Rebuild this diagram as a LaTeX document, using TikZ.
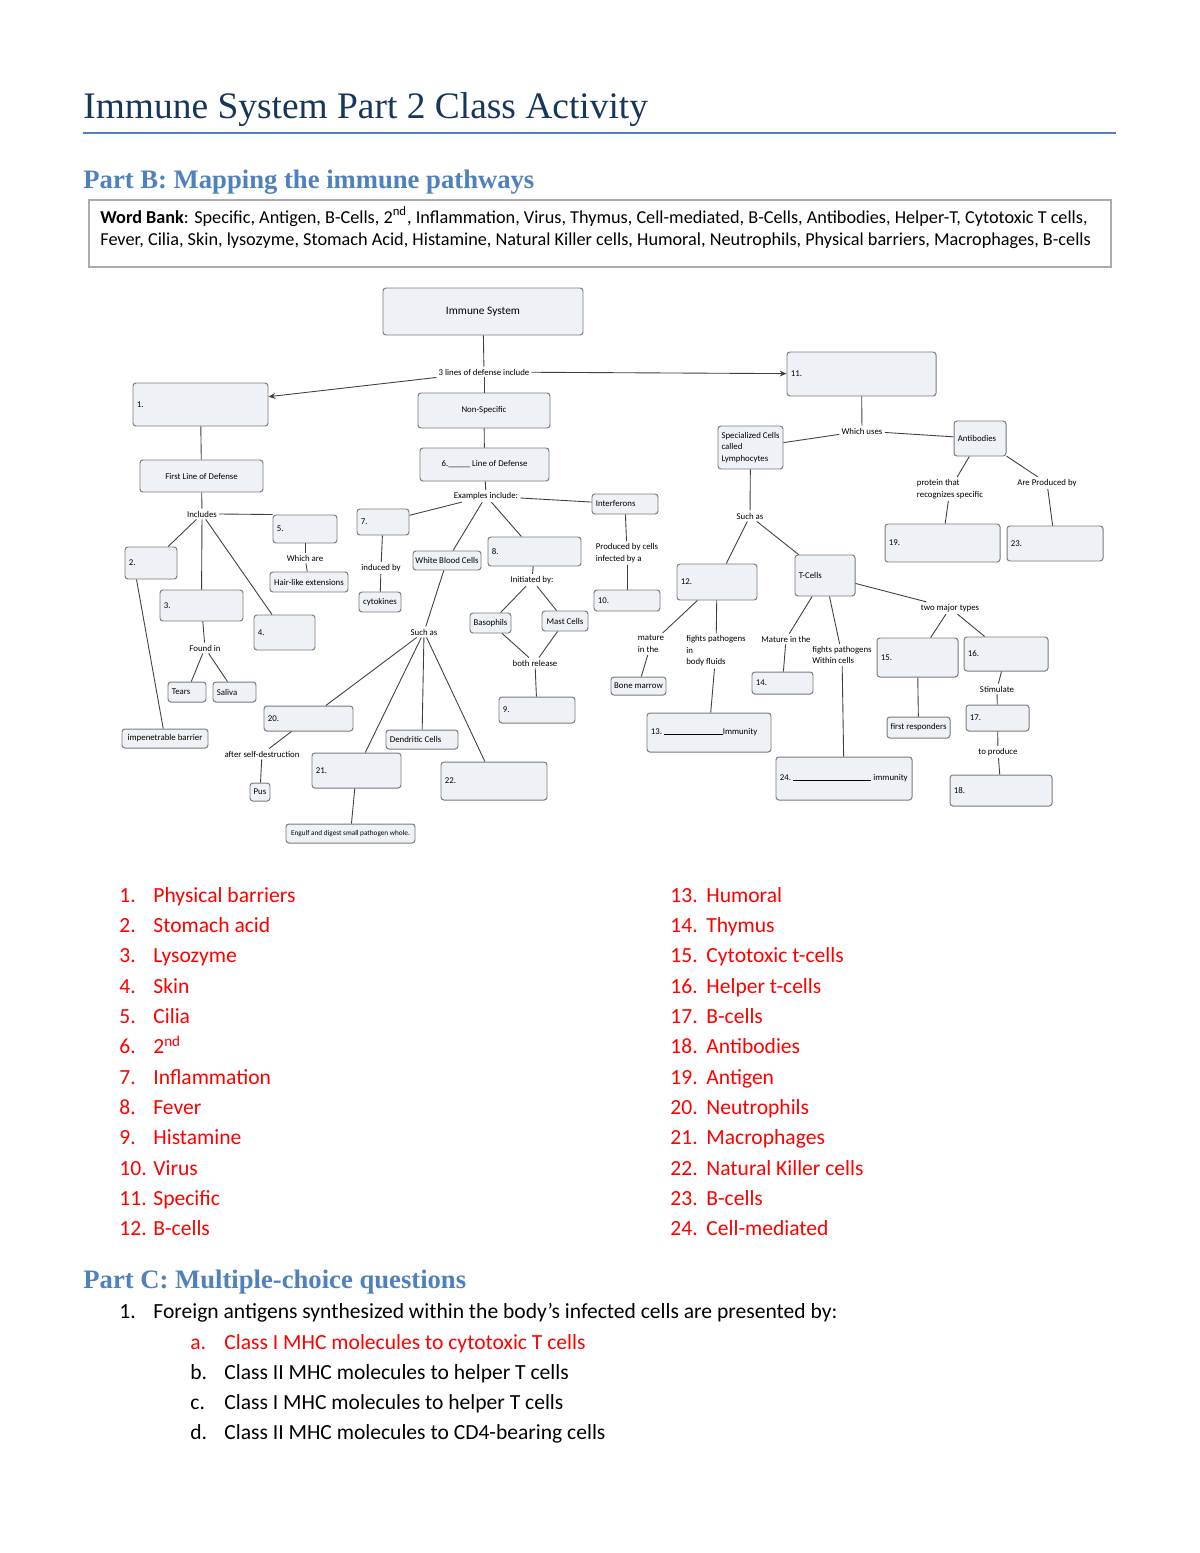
\documentclass[tikz,border=0pt]{standalone}
\usepackage{fontspec}
\setmainfont{Carlito}
\newfontfamily\headfont{Liberation Serif}
\usetikzlibrary{positioning,fit,calc,arrows.meta}

\definecolor{titleblue}{HTML}{17365D}
\definecolor{headblue}{HTML}{4F81BD}
\definecolor{boxfill}{HTML}{EEF2F6}
\definecolor{boxline}{HTML}{7A7A7A}
\definecolor{linkline}{HTML}{404040}
\definecolor{keyred}{HTML}{FF0000}

\begin{document}
\begin{tikzpicture}[x=0.5102pt,y=-0.5102pt,
    box/.style={draw=boxline, fill=boxfill, rounded corners=1.5pt, line width=0.5pt,
      inner sep=0pt, font=\fontsize{4.5}{5.9}\selectfont},
    tag/.style={anchor=west, inner sep=0pt, xshift=2pt, font=\fontsize{4.5}{5.9}\selectfont},
    mid/.style={inner sep=0pt, align=left, font=\fontsize{4.5}{5.9}\selectfont},
    link/.style={inner sep=1pt, align=left, font=\fontsize{4.5}{5.9}\selectfont},
    conn/.style={draw=linkline, line width=0.45pt},
    tip/.style={conn, -{Stealth[length=3.5pt,width=3pt]}},
    item/.style={anchor=base west, inner sep=0pt, font=\fontsize{11}{13}\selectfont},
    heading/.style={anchor=base west, inner sep=0pt, text=headblue,
      font=\headfont\bfseries\fontsize{13.6}{16}\selectfont}]

    % page
    \useasboundingbox[fill=white] (0,0) rectangle (1200,1553);

    % title and headings
    \node[anchor=base west, inner sep=0pt, text=titleblue,
      font=\headfont\fontsize{19.1}{23}\selectfont] (title) at (83,118)
      {Immune System Part 2 Class Activity};
    \draw[headblue, line width=1pt] (83,133) -- (1116,133);
    \node[heading] (partB) at (83,188) {Part B: Mapping the immune pathways};

    % word bank
    \node[draw=gray!65, line width=0.6pt, inner sep=0pt, fit={(89,200) (1111,267)}] (bank) {};
    \node[anchor=base west, inner sep=0pt, font=\fontsize{9.3}{11}\selectfont] (bank1) at (100,223)
      {\textbf{Word Bank}: Specific, Antigen, B-Cells, 2\textsuperscript{nd}, Inflammation, Virus, Thymus, Cell-mediated, B-Cells, Antibodies, Helper-T, Cytotoxic T cells,};
    \node[anchor=base west, inner sep=0pt, font=\fontsize{9.3}{11}\selectfont] (bank2) at (100,245)
      {Fever, Cilia, Skin, lysozyme, Stomach Acid, Histamine, Natural Killer cells, Humoral, Neutrophils, Physical barriers, Macrophages, B-cells};

    % concept map: top
    \node[box, fit={(383,288) (583,335)},
      label={[mid, font=\fontsize{5.8}{7}\selectfont]center:Immune System}] (immune) {};
    \node[link] (lines) at (484,372) {3 lines of defense include};
    \node[box, fit={(133,383) (268,426)}, label={[tag]west:1.}] (b1) {};
    \node[box, fit={(787,352) (936,396)}, label={[tag]west:11.}] (b11) {};
    \node[box, fit={(418,393) (550,428)}, label={[mid]center:Non-Specific}] (nonspec) {};
    \node[box, fit={(420,448) (549,481)}, label={[mid]center:6.\_\_\_\_\_ Line of Defense}] (b6) {};

    % first line of defense
    \node[box, fit={(140,460) (263,492)}, label={[mid]center:First Line of Defense}] (fld) {};
    \node[link] (includes) at (202,514) {Includes};
    \node[box, fit={(125,547) (177,579)}, label={[tag]west:2.}] (b2) {};
    \node[box, fit={(160,590) (243,621)}, label={[tag]west:3.}] (b3) {};
    \node[box, fit={(254,615) (315,650)}, label={[tag]west:4.}] (b4) {};
    \node[box, fit={(273,515) (337,543)}, label={[tag]west:5.}] (b5) {};
    \node[link] (whichare) at (305,558) {Which are};
    \node[box, fit={(270,572) (348,592)}, label={[mid]center:Hair-like extensions}] (hair) {};
    \node[link] (foundin) at (205,648) {Found in};
    \node[box, fit={(168,682) (206,702)}, label={[tag]west:Tears}] (tears) {};
    \node[box, fit={(213,682) (256,702)}, label={[tag]west:Saliva}] (saliva) {};
    \node[box, fit={(122,729) (208,748)}, label={[mid]center:impenetrable barrier}] (imp) {};

    % second line of defense
    \node[link] (examples) at (486,496) {Examples include:};
    \node[box, fit={(357,509) (409,535)}, label={[tag]west:7.}] (b7) {};
    \node[link] (induced) at (381,568) {induced by};
    \node[box, fit={(359,592) (401,612)}, label={[mid]center:cytokines}] (cyto) {};
    \node[box, fit={(413,551) (481,570)}, label={[mid]center:White Blood Cells}] (wbc) {};
    \node[box, fit={(488,537) (581,566)}, label={[tag]west:8.}] (b8) {};
    \node[box, fit={(592,494) (658,514)}, label={[tag]west:Interferons}] (interf) {};
    \node[link] (produced) at (627,553) {Produced by cells\\infected by a};
    \node[box, fit={(594,590) (660,611)}, label={[tag]west:10.}] (b10) {};
    \node[link] (initiated) at (532,580) {Initiated by:};
    \node[box, fit={(470,613) (511,633)}, label={[mid]center:Basophils}] (baso) {};
    \node[box, fit={(542,611) (588,631)}, label={[mid]center:Mast Cells}] (mast) {};
    \node[link] (bothrel) at (535,663) {both release};
    \node[box, fit={(499,697) (575,723)}, label={[tag]west:9.}] (b9) {};
    \node[link] (suchas1) at (424,632) {Such as};
    \node[box, fit={(264,706) (353,731)}, label={[tag]west:20.}] (b20) {};
    \node[box, fit={(312,753) (401,788)}, label={[tag]west:21.}] (b21) {};
    \node[box, fit={(386,730) (458,749)}, label={[tag]west:Dendritic Cells}] (dend) {};
    \node[box, fit={(441,762) (547,800)}, label={[tag]west:22.}] (b22) {};
    \node[link] (afterself) at (262,754) {after self-destruction};
    \node[box, fit={(250,783) (270,801)}, label={[mid]center:Pus}] (pus) {};
    \node[box, fit={(286,824) (415,843)},
      label={[mid, font=\fontsize{3.7}{5}\selectfont]center:Engulf and digest small pathogen whole.}] (engulf) {};

    % specific line of defense
    \node[link] (whichuses) at (862,431) {Which uses};
    \node[box, fit={(718,426) (783,469)},
      label={[mid]center:{Specialized Cells\\called\\Lymphocytes}}] (spec) {};
    \node[box, fit={(954,421) (1006,456)}, label={[tag]west:Antibodies}] (antib) {};
    \node[link] (protein) at (950,489) {protein that\\recognizes specific};
    \node[link] (areprod) at (1047,483) {Are Produced by};
    \node[box, fit={(885,524) (1000,562)}, label={[tag]west:19.}] (b19) {};
    \node[box, fit={(1007,526) (1103,561)}, label={[tag]west:23.}] (b23) {};
    \node[link] (suchas2) at (750,516) {Such as};
    \node[box, fit={(677,564) (757,600)}, label={[tag]west:12.}] (b12) {};
    \node[box, fit={(795,555) (855,596)}, label={[tag]west:T-Cells}] (tcells) {};
    \node[link] (maturein) at (651,644) {mature\\in the};
    \node[box, fit={(611,677) (666,695)}, label={[mid]center:Bone marrow}] (bone) {};
    \node[link] (fightsb) at (716,651) {fights pathogens\\in\\body fluids};
    \node[box, fit={(647,713) (771,752)},
      label={[tag]west:13.\ \rule{30pt}{0.3pt}Immunity}] (b13) {};
    \node[link] (maturet) at (786,639) {Mature in the};
    \node[box, fit={(752,672) (813,694)}, label={[tag]west:14.}] (b14) {};
    \node[link] (fightsw) at (842,655) {fights pathogens\\Within cells};
    \node[box, fit={(776,757) (912,800)},
      label={[tag]west:24.\ \rule{40pt}{0.3pt}\ immunity}] (b24) {};
    \node[link] (twotypes) at (950,608) {two major types};
    \node[box, fit={(877,638) (958,677)}, label={[tag]west:15.}] (b15) {};
    \node[box, fit={(964,637) (1048,671)}, label={[tag]west:16.}] (b16) {};
    \node[box, fit={(887,717) (950,738)}, label={[mid]center:first responders}] (first) {};
    \node[link] (stimulate) at (997,689) {Stimulate};
    \node[box, fit={(966,705) (1029,731)}, label={[tag]west:17.}] (b17) {};
    \node[link] (toproduce) at (998,752) {to produce};
    \node[box, fit={(950,775) (1052,806)}, label={[tag]west:18.}] (b18) {};

    % connectors
    \draw[conn] (immune) -- (lines);
    \draw[conn] (lines) -- (nonspec);
    \draw[tip] (lines) -- (b1);
    \draw[tip] (lines) -- (b11);
    \draw[conn] (b1) -- (fld);
    \draw[conn] (fld) -- (includes);
    \draw[conn] (includes.east) -- (b5.north west);
    \draw[conn] (includes) -- (b2);
    \draw[conn] (includes) -- (b3);
    \draw[conn] (includes) -- (b4);
    \draw[conn] (b5) -- (whichare);
    \draw[conn] (whichare) -- (hair);
    \draw[conn] (b3) -- (foundin);
    \draw[conn] (foundin) -- (tears);
    \draw[conn] (foundin) -- (saliva);
    \draw[conn] ($(b2.south west)+(12,0)$) -- (imp);
    \draw[conn] (nonspec) -- (b6);
    \draw[conn] (b6) -- (examples);
    \draw[conn] (examples) -- (interf);
    \draw[conn] (examples) -- (b7);
    \draw[conn] (examples) -- (wbc);
    \draw[conn] (examples) -- (b8);
    \draw[conn] (b7) -- (induced);
    \draw[conn] (induced) -- (cyto);
    \draw[conn] (interf) -- (produced);
    \draw[conn] (produced) -- (b10);
    \draw[conn] (b8) -- (initiated);
    \draw[conn] (initiated) -- (baso);
    \draw[conn] (initiated) -- (mast);
    \draw[conn] (baso) -- (bothrel);
    \draw[conn] (mast) -- (bothrel);
    \draw[conn] (bothrel) -- (b9);
    \draw[conn] (wbc) -- (suchas1);
    \draw[conn] (suchas1) -- (b20);
    \draw[conn] (suchas1) -- (b21);
    \draw[conn] (suchas1) -- (dend);
    \draw[conn] (suchas1) -- (b22);
    \draw[conn] (b20) -- (afterself);
    \draw[conn] (afterself) -- (pus);
    \draw[conn] (b21) -- (engulf);
    \draw[conn] (b11) -- (whichuses);
    \draw[conn] (whichuses) -- (spec);
    \draw[conn] (whichuses) -- (antib);
    \draw[conn] (antib) -- (protein);
    \draw[conn] (protein) -- (b19);
    \draw[conn] (antib) -- (areprod);
    \draw[conn] (areprod) -- (b23);
    \draw[conn] (spec) -- (suchas2);
    \draw[conn] (suchas2) -- (b12);
    \draw[conn] (suchas2) -- (tcells);
    \draw[conn] (b12) -- (maturein);
    \draw[conn] (maturein) -- (bone);
    \draw[conn] (b12) -- (fightsb);
    \draw[conn] (fightsb) -- (b13);
    \draw[conn] (tcells) -- (maturet);
    \draw[conn] (maturet) -- (b14);
    \draw[conn] (tcells) -- (fightsw);
    \draw[conn] (fightsw) -- (b24);
    \draw[conn] (tcells) -- (twotypes);
    \draw[conn] (twotypes) -- (b15);
    \draw[conn] (twotypes) -- (b16);
    \draw[conn] (b15) -- (first);
    \draw[conn] (b16) -- (stimulate);
    \draw[conn] (stimulate) -- (b17);
    \draw[conn] (b17) -- (toproduce);
    \draw[conn] (toproduce) -- (b18);

    % answer key
    \foreach \txt [count=\i] in {Physical barriers, Stomach acid, Lysozyme, Skin, Cilia,
        {2\textsuperscript{nd}}, Inflammation, Fever, Histamine, Virus, Specific, B-cells} {
      \node[item, text=keyred] (num\i) at (119,{902+30.36*(\i-1)}) {\i.};
      \node[item, text=keyred] (key\i) at (153,{902+30.36*(\i-1)}) {\txt};
    }
    \foreach \txt [count=\i from 13] in {Humoral, Thymus, Cytotoxic t-cells, Helper t-cells,
        B-cells, Antibodies, Antigen, Neutrophils, Macrophages, Natural Killer cells,
        B-cells, Cell-mediated} {
      \node[item, text=keyred] (num\i) at (670,{902+30.36*(\i-13)}) {\i.};
      \node[item, text=keyred] (key\i) at (706,{902+30.36*(\i-13)}) {\txt};
    }

    % part C
    \node[heading] (partC) at (83,1288) {Part C: Multiple-choice questions};
    \node[item] (q1num) at (119,1318) {1.};
    \node[item] (q1) at (153,1318)
      {Foreign antigens synthesized within the body’s infected cells are presented by:};
    \node[item, text=keyred] (qa) at (190,1349) {a.};
    \node[item, text=keyred] (qatxt) at (224,1349) {Class I MHC molecules to cytotoxic T cells};
    \node[item] (qb) at (190,1379) {b.};
    \node[item] (qbtxt) at (224,1379) {Class II MHC molecules to helper T cells};
    \node[item] (qc) at (190,1409) {c.};
    \node[item] (qctxt) at (224,1409) {Class I MHC molecules to helper T cells};
    \node[item] (qd) at (190,1439) {d.};
    \node[item] (qdtxt) at (224,1439) {Class II MHC molecules to CD4-bearing cells};

\end{tikzpicture}
\end{document}
